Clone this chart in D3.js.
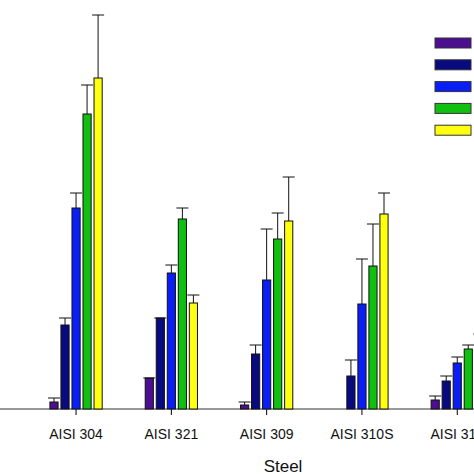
<!DOCTYPE html>
<html><head><meta charset="utf-8">
<script src="https://cdn.jsdelivr.net/npm/d3@7"></script>
<style>body{margin:0;background:#fff}</style></head>
<body><svg id="c" width="474" height="474"></svg>
<script>
const steels = ["AISI 304", "AISI 321", "AISI 309", "AISI 310S", "AISI 316"];
const series = ["s1", "s2", "s3", "s4", "s5"];
const colors = ["#4b0f8f", "#0a0a80", "#0a1ff5", "#10c010", "#ffff10"];
// values and upper error bars (arbitrary units)
const values = [
  [7, 84, 201, 295, 331],
  [31, 91, 136, 190, 106],
  [4, 55, 129, 170, 188],
  [0, 33, 105, 143, 195],
  [9, 28, 46, 60, 70]
];
const errors = [
  [4, 7, 15, 29, 63],
  [0, 0, 8, 11, 8],
  [3, 9, 51, 26, 44],
  [0, 16, 45, 42, 21],
  [4, 5, 6, 4, 5]
];

const svg = d3.select("#c");
const x = d3.scaleBand().domain(steels).range([28.4, 504.9]).paddingInner(0).paddingOuter(0);
const y = d3.scaleLinear().domain([0, 409]).range([409, 0]);
const xs = d3.scaleBand().domain(series).range([-29, 29]).padding(0.26);

svg.append("g").attr("transform", "translate(0,409)")
  .call(d3.axisBottom(x).tickSize(6).tickPadding(14))
  .call(g => g.select(".domain").remove())
  .call(g => g.selectAll("text").attr("font-family", "Liberation Sans, Arial").attr("font-size", 14).attr("fill", "#111"));
svg.append("line").attr("x1", 0).attr("x2", 474).attr("y1", 409).attr("y2", 409).attr("stroke", "#333");

steels.forEach((s, i) => {
  const cx = x(s) + x.bandwidth() / 2;
  const g = svg.append("g");
  series.forEach((k, j) => {
    const v = values[i][j];
    if (v <= 0) return;
    const bx = cx + xs(k);
    g.append("rect").attr("x", bx).attr("y", y(v)).attr("width", xs.bandwidth())
      .attr("height", y(0) - y(v)).attr("fill", colors[j]).attr("stroke", "#111").attr("stroke-width", 1);
    const e = errors[i][j];
    const mx = bx + xs.bandwidth() / 2;
    g.append("line").attr("x1", mx).attr("x2", mx).attr("y1", y(v)).attr("y2", y(v + e)).attr("stroke", "#111");
    g.append("line").attr("x1", mx - 6).attr("x2", mx + 6).attr("y1", y(v + e)).attr("y2", y(v + e)).attr("stroke", "#111");
  });
});

const leg = svg.append("g");
series.forEach((k, j) => {
  leg.append("rect").attr("x", 435).attr("y", 38 + j * 21.8).attr("width", 36).attr("height", 10)
    .attr("fill", colors[j]).attr("stroke", "#333");
});

svg.append("text").attr("x", 283).attr("y", 472).attr("text-anchor", "middle")
  .attr("font-family", "Liberation Sans, Arial").attr("font-size", 17).attr("fill", "#111").text("Steel");
</script></body></html>
